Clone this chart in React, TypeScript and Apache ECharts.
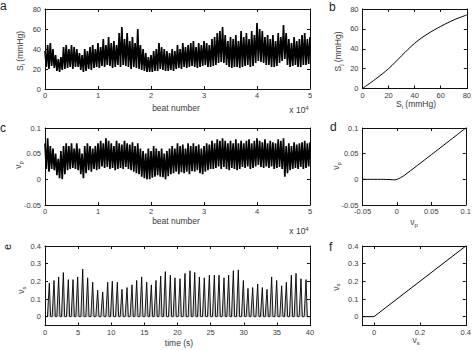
import React, { useEffect, useRef } from "react";
import * as echarts from "echarts";

const FONT = '"Liberation Sans", Arial, Helvetica, sans-serif';

// Panel a: S_i (mmHg) vs beat number — upper / lower envelope of the noisy trace (every 500 beats, lows offset by 250)
const aHi = [38, 44, 46, 40, 34, 30, 32, 42, 44, 40, 44, 42, 40, 36, 34, 40, 38, 42, 44, 40,
  46, 42, 50, 44, 52, 46, 48, 44, 56, 62, 50, 56, 48, 52, 46, 60, 44, 40, 36, 32,
  34, 38, 40, 46, 42, 40, 38, 36, 40, 38, 44, 40, 46, 42, 44, 46, 48, 42, 46, 44,
  48, 46, 44, 50, 52, 56, 58, 62, 54, 48, 52, 50, 54, 48, 58, 52, 56, 50, 58, 54,
  66, 60, 58, 52, 54, 50, 54, 48, 56, 52, 64, 56, 50, 46, 52, 48, 50, 54, 56, 50, 52];
const aLo = [22, 20, 23, 21, 18, 17, 19, 20, 21, 22, 20, 22, 22, 19, 17, 18, 20, 19, 21, 22,
  21, 23, 22, 24, 23, 21, 22, 24, 22, 24, 23, 22, 20, 22, 21, 20, 19, 18, 17, 17,
  17, 18, 18, 20, 19, 18, 18, 19, 18, 20, 21, 20, 22, 21, 22, 23, 22, 21, 22, 23,
  24, 22, 22, 23, 24, 26, 27, 26, 24, 22, 21, 22, 22, 21, 22, 23, 24, 22, 23, 26,
  28, 27, 26, 24, 24, 22, 22, 23, 26, 28, 30, 24, 22, 23, 24, 22, 22, 24, 24, 25];

// Panel b: S_j vs S_i
const bX = [0, 10, 20, 30, 40, 50, 60, 70, 80];
const bY = [0, 9.5, 20, 33, 45.5, 55, 62.5, 69, 74];

// Panel c: nu_p vs beat number — envelopes
const cHi = [0.07, 0.08, 0.065, 0.06, 0.05, 0.04, 0.055, 0.065, 0.07, 0.065, 0.07, 0.06, 0.07, 0.06, 0.05, 0.065, 0.07, 0.065, 0.06, 0.065,
  0.07, 0.075, 0.07, 0.08, 0.075, 0.07, 0.065, 0.075, 0.07, 0.068, 0.075, 0.07, 0.068, 0.072, 0.065, 0.07, 0.06, 0.055, 0.05, 0.06,
  0.055, 0.065, 0.06, 0.055, 0.06, 0.05, 0.055, 0.06, 0.065, 0.06, 0.07, 0.065, 0.068, 0.06, 0.07, 0.065, 0.07, 0.065, 0.068, 0.06,
  0.065, 0.07, 0.068, 0.075, 0.07, 0.078, 0.075, 0.08, 0.075, 0.07, 0.075, 0.07, 0.078, 0.07, 0.075, 0.07, 0.075, 0.078, 0.07, 0.075,
  0.08, 0.075, 0.072, 0.078, 0.07, 0.075, 0.072, 0.07, 0.078, 0.075, 0.08, 0.065, 0.07, 0.065, 0.072, 0.068, 0.07, 0.072, 0.075, 0.07, 0.072];
const cLo = [0.02, 0.015, 0.02, 0.018, 0.008, 0.002, 0.0, 0.01, 0.018, 0.02, 0.022, 0.02, 0.018, 0.01, 0.002, 0.012, 0.018, 0.015, 0.02, 0.018,
  0.02, 0.025, 0.022, 0.024, 0.02, 0.022, 0.018, 0.02, 0.022, 0.02, 0.024, 0.02, 0.018, 0.015, 0.012, 0.01, 0.005, 0.002, 0.0, 0.0,
  0.003, 0.005, 0.008, 0.005, 0.004, 0.0, 0.006, 0.01, 0.012, 0.015, 0.01, 0.014, 0.012, 0.015, 0.01, 0.016, 0.015, 0.018, 0.012, 0.01,
  0.015, 0.018, 0.02, 0.02, 0.022, 0.025, 0.02, 0.024, 0.02, 0.018, 0.022, 0.02, 0.018, 0.02, 0.024, 0.022, 0.025, 0.02, 0.022, 0.025,
  0.028, 0.024, 0.022, 0.025, 0.022, 0.025, 0.02, 0.022, 0.024, 0.02, 0.005, 0.012, 0.018, 0.02, 0.022, 0.02, 0.024, 0.02, 0.022, 0.025];

// Panel d: nu_p output vs nu_p input
const dX = [-0.05, -0.02, -0.01, -0.003, 0, 0.005, 0.01, 0.05, 0.1];
const dY = [0, 0, -0.0005, -0.001, 0, 0.003, 0.007, 0.048, 0.1];

// Panel e: nu_s vs time (s) — pulse peak times and heights
const ePeakT = [0.65, 1.36, 2.06, 2.77, 3.52, 4.23, 4.93, 5.69, 6.44, 7.2, 7.95, 8.71, 9.46, 10.16, 10.92, 11.62, 12.38, 13.13,
  13.84, 14.59, 15.35, 16.05, 16.75, 17.46, 18.16, 18.92, 19.62, 20.38, 21.13, 21.89, 22.6, 23.3, 24.05, 24.81, 25.56, 26.27,
  27.02, 27.72, 28.43, 29.18, 29.94, 30.64, 31.35, 32.1, 32.8, 33.51, 34.21, 34.97, 35.72, 36.43, 37.18, 37.89, 38.64, 39.4];
const ePeakV = [0.19, 0.205, 0.225, 0.25, 0.21, 0.21, 0.225, 0.27, 0.22, 0.195, 0.15, 0.14, 0.195, 0.2, 0.195, 0.155, 0.165, 0.18,
  0.205, 0.225, 0.195, 0.18, 0.205, 0.23, 0.255, 0.235, 0.22, 0.215, 0.245, 0.26, 0.25, 0.225, 0.22, 0.235, 0.235, 0.235,
  0.22, 0.235, 0.26, 0.265, 0.205, 0.16, 0.165, 0.185, 0.165, 0.155, 0.225, 0.205, 0.175, 0.195, 0.235, 0.245, 0.215, 0.21];

// Panel f
const fX = [-0.05, 0, 0.4];
const fY = [0, 0, 0.4];

const num = (v: number) => String(Math.round(v * 1000) / 1000);

type AxisSpec = { min: number; max: number; interval?: number; custom?: number[]; fmt?: (v: number) => string };
const panels: { grid: any; x: AxisSpec; y: AxisSpec }[] = [
  { grid: { left: 45, top: 9, width: 265, height: 80 }, x: { min: 0, max: 50000, interval: 10000, fmt: (v) => String(v / 10000) }, y: { min: 0, max: 80, interval: 20 } },
  { grid: { left: 362.5, top: 9, width: 110.5, height: 79.5 }, x: { min: 0, max: 80, interval: 20 }, y: { min: 0, max: 80, interval: 20 } },
  { grid: { left: 45, top: 128, width: 265, height: 77 }, x: { min: 0, max: 50000, interval: 10000, fmt: (v) => String(v / 10000) }, y: { min: -0.05, max: 0.1, interval: 0.05 } },
  { grid: { left: 362.5, top: 128, width: 110.5, height: 77 }, x: { min: -0.05, max: 0.1, interval: 0.05 }, y: { min: -0.05, max: 0.1, interval: 0.05 } },
  { grid: { left: 45, top: 246, width: 265, height: 79.5 }, x: { min: 0, max: 40, interval: 5 }, y: { min: -0.05, max: 0.4, custom: [0, 0.1, 0.2, 0.3, 0.4] } },
  { grid: { left: 362.5, top: 246, width: 110.5, height: 79.5 }, x: { min: -0.05, max: 0.4, custom: [0, 0.2, 0.4] }, y: { min: -0.05, max: 0.4, custom: [0, 0.1, 0.2, 0.3, 0.4] } },
];

function makeAxis(spec: AxisSpec, gridIndex: number, position: string, mirror: boolean, isX: boolean) {
  const ax: any = {
    type: "value",
    gridIndex,
    position,
    min: spec.min,
    max: spec.max,
    splitLine: { show: false },
    axisLine: { show: true, onZero: false, lineStyle: { color: "#111", width: 1 } },
    axisTick: { show: true, inside: true, length: 3, lineStyle: { color: "#111", width: 1 } },
    axisLabel: {
      show: !mirror,
      fontFamily: FONT,
      fontSize: 7.5,
      color: "#3a3a3a",
      margin: isX ? 2.5 : 4,
      formatter: spec.fmt ? spec.fmt : num,
    },
  };
  if (spec.interval !== undefined) ax.interval = spec.interval;
  if (spec.custom) {
    ax.axisTick.customValues = spec.custom;
    ax.axisLabel.customValues = spec.custom;
  }
  return ax;
}

function zigzag(hi: number[], lo: number[], step: number) {
  const out: number[][] = [];
  for (let i = 0; i < hi.length; i++) {
    out.push([i * step, hi[i]]);
    if (i < lo.length) out.push([i * step + step / 2, lo[i]]);
  }
  return out;
}

function pulses() {
  const out: number[][] = [[0, 0]];
  for (let i = 0; i < ePeakT.length; i++) {
    out.push([ePeakT[i] - 0.28, 0]);
    out.push([ePeakT[i], ePeakV[i]]);
    out.push([ePeakT[i] + 0.2, 0]);
  }
  out.push([40, 0]);
  return out;
}

const richBase = {
  t: { fontFamily: FONT, fontSize: 8.5, fill: "#3a3a3a", color: "#3a3a3a" },
  s: { fontFamily: FONT, fontSize: 6, fill: "#3a3a3a", color: "#3a3a3a", padding: [5, 0, 0, 0] },
  p: { fontFamily: FONT, fontSize: 6, fill: "#3a3a3a", color: "#3a3a3a", padding: [0, 0, 5, 0] },
};

function label(text: string, x: number, y: number, rotate = false) {
  return {
    type: "text",
    x,
    y,
    rotation: rotate ? Math.PI / 2 : 0,
    style: {
      text,
      rich: richBase,
      align: "center",
      verticalAlign: "middle",
      textAlign: "center",
      textVerticalAlign: "middle",
    },
  };
}

function letter(text: string, x: number, y: number, rotate = false, size = 12) {
  return {
    type: "text",
    x,
    y,
    rotation: rotate ? Math.PI / 2 : 0,
    style: {
      text,
      fontFamily: FONT,
      fontSize: size,
      fill: "#222",
      align: rotate ? "center" : "left",
      verticalAlign: rotate ? "middle" : "bottom",
      textAlign: rotate ? "center" : "left",
      textVerticalAlign: rotate ? "middle" : "bottom",
    },
  };
}

export default function App() {
  const ref = useRef<HTMLDivElement>(null);
  useEffect(() => {
    document.body.style.margin = "0";
    if (!ref.current) return;
    const chart = echarts.init(ref.current, undefined, { renderer: "svg" });
    const xAxis: any[] = [];
    const yAxis: any[] = [];
    panels.forEach((p, i) => {
      xAxis.push(makeAxis(p.x, i, "bottom", false, true));
      xAxis.push(makeAxis(p.x, i, "top", true, true));
      yAxis.push(makeAxis(p.y, i, "left", false, false));
      yAxis.push(makeAxis(p.y, i, "right", true, false));
    });
    const line = (idx: number, data: number[][], width = 1, smooth: any = false, extra: any = {}) => ({
      type: "line",
      xAxisIndex: idx * 2,
      yAxisIndex: idx * 2,
      data,
      symbol: "none",
      smooth,
      lineStyle: { color: "#000", width },
      silent: true,
      ...extra,
    });
    chart.setOption({
      animation: false,
      backgroundColor: "#fff",
      grid: panels.map((p) => ({ ...p.grid, containLabel: false })),
      xAxis,
      yAxis,
      series: [
        line(0, zigzag(aHi, aLo, 500), 1.7),
        line(1, bX.map((x, i) => [x, bY[i]]), 1, 0.4),
        line(2, zigzag(cHi, cLo, 500), 1.7),
        line(3, dX.map((x, i) => [x, dY[i]]), 1, 0.3),
        line(4, pulses(), 0.9, false, { areaStyle: { color: "#c4c4c4", opacity: 1, origin: 0 } }),
        line(5, fX.map((x, i) => [x, fY[i]]), 1),
      ],
      graphic: [
        letter("a", 0, 11.5),
        letter("b", 329, 12.6),
        letter("c", 0, 134),
        letter("d", 330, 132.6),
        letter("e", 7, 247, true, 11),
        letter("f", 329, 252.6),
        label("{t|S}{s|i}{t| (mmHg)}", 20, 51, true),
        label("{t|beat number}", 176, 108),
        label("{t|x 10}{p|4}", 299, 110),
        label("{t|S}{s|j}{t| (mmHg)}", 338, 51.5, true),
        label("{t|S}{s|i}{t| (mmHg)}", 416, 104),
        label("{t|ν}{s|p}", 18, 165, true),
        label("{t|beat number}", 176, 221),
        label("{t|x 10}{p|4}", 299, 231),
        label("{t|ν}{s|p}", 336, 166, true),
        label("{t|ν}{s|p}", 414, 222),
        label("{t|ν}{s|s}", 21, 290, true),
        label("{t|time (s)}", 179, 343),
        label("{t|ν}{s|s}", 335.5, 287, true),
        label("{t|ν}{s|s}", 416, 340),
      ],
    });
    return () => chart.dispose();
  }, []);
  return <div ref={ref} style={{ position: "absolute", left: 0, top: 0, width: 474, height: 351 }} />;
}
